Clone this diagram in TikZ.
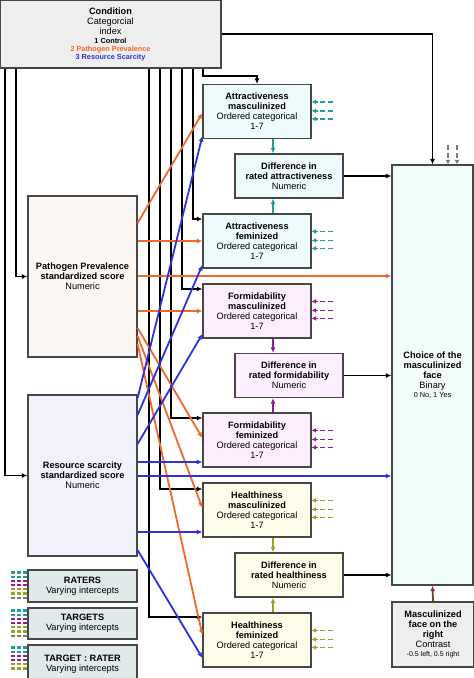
\documentclass[tikz,border=0pt]{standalone}
\usepackage{fontspec}
\setmainfont{Liberation Sans}
\usetikzlibrary{arrows.meta}
\definecolor{cOr}{HTML}{F0682A}
\definecolor{cBl}{HTML}{3030DC}
\definecolor{cTeal}{HTML}{1E9E98}
\definecolor{cPur}{HTML}{971A97}
\definecolor{cOl}{HTML}{A0A020}
\definecolor{cGrey}{HTML}{7A7A7A}
\definecolor{cBrown}{HTML}{7A3A28}
\definecolor{fCond}{HTML}{EEEEEE}
\definecolor{fAttr}{HTML}{EDFBFC}
\definecolor{fForm}{HTML}{FCEEFC}
\definecolor{fHeal}{HTML}{FDFDEA}
\definecolor{fPath}{HTML}{FCF7F3}
\definecolor{fRes}{HTML}{F1F1FC}
\definecolor{fChoice}{HTML}{F0FDF8}
\definecolor{fLeg}{HTML}{E0EAEB}
\newcommand{\smalltxt}{\fontsize{7.3}{8}\selectfont}
\begin{document}
\begin{tikzpicture}[x=1pt,y=-1pt,
  box/.style={draw=black!72, line width=1.2pt, align=center, inner sep=0pt,
    font=\fontsize{9.2}{10}\selectfont},
  rbox/.style={box, minimum width=108, minimum height=54},
  dbox/.style={box, minimum width=108, minimum height=44},
  arr/.style={line width=1.8pt, -{Latex[length=5.5pt,width=5pt]}},
  blk/.style={arr, draw=black},
  oarr/.style={arr, draw=cOr, -{Latex[length=5.5pt,width=5pt,fill=cOr]}},
  barr/.style={arr, draw=cBl, -{Latex[length=5.5pt,width=5pt,fill=cBl]}},
  dsharr/.style={line width=1.8pt, dash pattern=on 5pt off 2.5pt},
  legdash/.style={line width=2.2pt, dash pattern=on 4pt off 2pt},
]
\useasboundingbox (0,0) rectangle (474,678);

% nodes
\node[box, fill=fCond, minimum width=221, minimum height=68] (cond) at (110.5,34)
  {\textbf{Condition}\\Categorcial\\index\\[-1pt]
   {\smalltxt\bfseries 1 Control}\\[-2pt]
   {\smalltxt\bfseries\color{cOr}2 Pathogen Prevalence}\\[-2pt]
   {\smalltxt\bfseries\color{cBl}3 Resource Scarcity}};

\node[rbox, fill=fAttr] (am) at (257,111.5) {\textbf{Attractiveness}\\\textbf{masculinized}\\Ordered categorical\\1-7};
\node[dbox, fill=fAttr] (ad) at (289,176) {\textbf{Difference in}\\\textbf{rated attractiveness}\\Numeric};
\node[rbox, fill=fAttr] (af) at (257,241) {\textbf{Attractiveness}\\\textbf{feminized}\\Ordered categorical\\1-7};

\node[rbox, fill=fForm] (fm) at (257,311) {\textbf{Formidability}\\\textbf{masculinized}\\Ordered categorical\\1-7};
\node[dbox, fill=fForm] (fd) at (289,375.5) {\textbf{Difference in}\\\textbf{rated formidability}\\Numeric};
\node[rbox, fill=fForm] (ff) at (257,440) {\textbf{Formidability}\\\textbf{feminized}\\Ordered categorical\\1-7};

\node[rbox, fill=fHeal] (hm) at (257,510) {\textbf{Healthiness}\\\textbf{masculinized}\\Ordered categorical\\1-7};
\node[dbox, fill=fHeal] (hd) at (289,575) {\textbf{Difference in}\\\textbf{rated healthiness}\\Numeric};
\node[rbox, fill=fHeal] (hf) at (257,640) {\textbf{Healthiness}\\\textbf{feminized}\\Ordered categorical\\1-7};

\node[box, fill=fPath, minimum width=109, minimum height=161] (pp) at (82.5,276.5)
  {\textbf{Pathogen Prevalence}\\\textbf{standardized score}\\Numeric};
\node[box, fill=fRes, minimum width=109, minimum height=161] (rs) at (82.5,475.5)
  {\textbf{Resource scarcity}\\\textbf{standardized score}\\Numeric};

\node[box, fill=fChoice, minimum width=81, minimum height=420] (ch) at (432.5,375)
  {\textbf{Choice of the}\\\textbf{masculinized}\\\textbf{face}\\Binary\\[-1pt]{\smalltxt 0 No, 1 Yes}};
\node[box, fill=fCond, minimum width=82, minimum height=65] (mf) at (433,634.5)
  {\textbf{Masculinized}\\\textbf{face on the}\\\textbf{right}\\Contrast\\[-1pt]{\fontsize{7}{8}\selectfont -0.5 left, 0.5 right}};

\node[box, fill=fLeg, minimum width=109, minimum height=32] (lr) at (82.5,586)
  {\textbf{RATERS}\\Varying intercepts};
\node[box, fill=fLeg, minimum width=109, minimum height=31] (lt) at (82.5,623.5)
  {\textbf{TARGETS}\\Varying intercepts};
\node[box, fill=fLeg, minimum width=109, minimum height=36, text depth=0pt] (ltr) at (82.5,663)
  {\textbf{TARGET : RATER}\\Varying intercepts};

% black connectors from condition
\draw[blk] (cond.south -| 5,0) |- (rs.west);
\draw[blk] (cond.south -| 16,0) |- (pp.west);
\draw[blk] (cond.south -| 149,0) |- (hf.west |- 0,617);
\draw[blk] (cond.south -| 160,0) |- (hm.west |- 0,489);
\draw[blk] (cond.south -| 171,0) |- (ff.west |- 0,418);
\draw[blk] (cond.south -| 182,0) |- (fm.west |- 0,289);
\draw[blk] (cond.south -| 193,0) |- (af.west |- 0,219);
\draw[blk] (cond.south -| 203,0) |- ([yshift=8]am.north) -- (am.north);
\draw[blk] (cond.east) -| (ch.north);

% difference -> choice
\draw[blk] (ad.east) -- (ch.west |- ad.east);
\draw[blk] (fd.east) -- (ch.west |- fd.east);
\draw[blk] (hd.east) -- (ch.west |- hd.east);

% rating -> difference
\foreach \t/\d/\b/\c in {am/ad/af/cTeal, fm/fd/ff/cPur, hm/hd/hf/cOl}{
  \draw[arr, draw=\c, -{Latex[length=5.5pt,width=5pt,fill=\c]}] (\t.south -| 273,0) -- (\d.north -| 273,0);
  \draw[arr, draw=\c, -{Latex[length=5.5pt,width=5pt,fill=\c]}] (\b.north -| 273,0) -- (\d.south -| 273,0);
}

% pathogen (orange)
\draw[oarr] (pp.east |- 0,223) -- (am.west |- 0,113);
\draw[oarr] (pp.east |- 0,241) -- (af.west |- 0,241);
\draw[oarr] (pp.east |- 0,276) -- (ch.west |- 0,276);
\draw[oarr] (pp.east |- 0,311) -- (fm.west |- 0,311);
\draw[oarr] (pp.east |- 0,328) -- (ff.west |- 0,438);
\draw[oarr] (pp.east |- 0,336) -- (hm.west |- 0,508);
\draw[oarr] (pp.east |- 0,344) -- (hf.west |- 0,635);

% resource (blue)
\draw[barr] (rs.east |- 0,398) -- (am.west |- 0,136);
\draw[barr] (rs.east |- 0,415) -- (af.west |- 0,265);
\draw[barr] (rs.east |- 0,444) -- (fm.west |- 0,334);
\draw[barr] (rs.east |- 0,462) -- (ff.west |- 0,462);
\draw[barr] (rs.east |- 0,476) -- (ch.west |- 0,476);
\draw[barr] (rs.east |- 0,532) -- (hm.west |- 0,532);
\draw[barr] (rs.east |- 0,550) -- (hf.west |- 0,658);

% masculinized face -> choice
\draw[arr, draw=cBrown, -{Latex[length=5.5pt,width=5pt,fill=cBrown]}] (mf.north) -- (ch.south);

% dashed random-effect arrows
\foreach \b/\c in {am/cTeal, af/cTeal, fm/cPur, ff/cPur, hm/cOl, hf/cOl}{
  \foreach \o in {18,27,35}{
    \draw[dsharr, draw=\c, -{Latex[length=4.5pt,width=5pt,fill=\c]}] ([xshift=21,yshift=-\o]\b.north east) -- ([yshift=-\o]\b.north east);
  }
}
\foreach \xx in {448,457}{
  \draw[dsharr, draw=cGrey, -{Latex[length=4.5pt,width=5pt,fill=cGrey]}] (\xx,145) -- (ch.north -| \xx,0);
}

% legend dashes
\foreach \o/\c in {3/cTeal,7.2/cTeal,11.4/cPur,15.6/cPur,19.8/cOl,24/cOl,28.2/cGrey}{
  \draw[legdash, draw=\c] ([yshift=-\o]lr.north west) -- ++(-16,0);
  \draw[legdash, draw=\c] ([yshift=-\o]lt.north west) -- ++(-16,0);
}
\foreach \o/\c in {3/cTeal,7.2/cTeal,11.4/cPur,15.6/cPur,19.8/cOl,24/cOl}{
  \draw[legdash, draw=\c] ([yshift=-\o]ltr.north west) -- ++(-16,0);
}
\end{tikzpicture}
\end{document}
